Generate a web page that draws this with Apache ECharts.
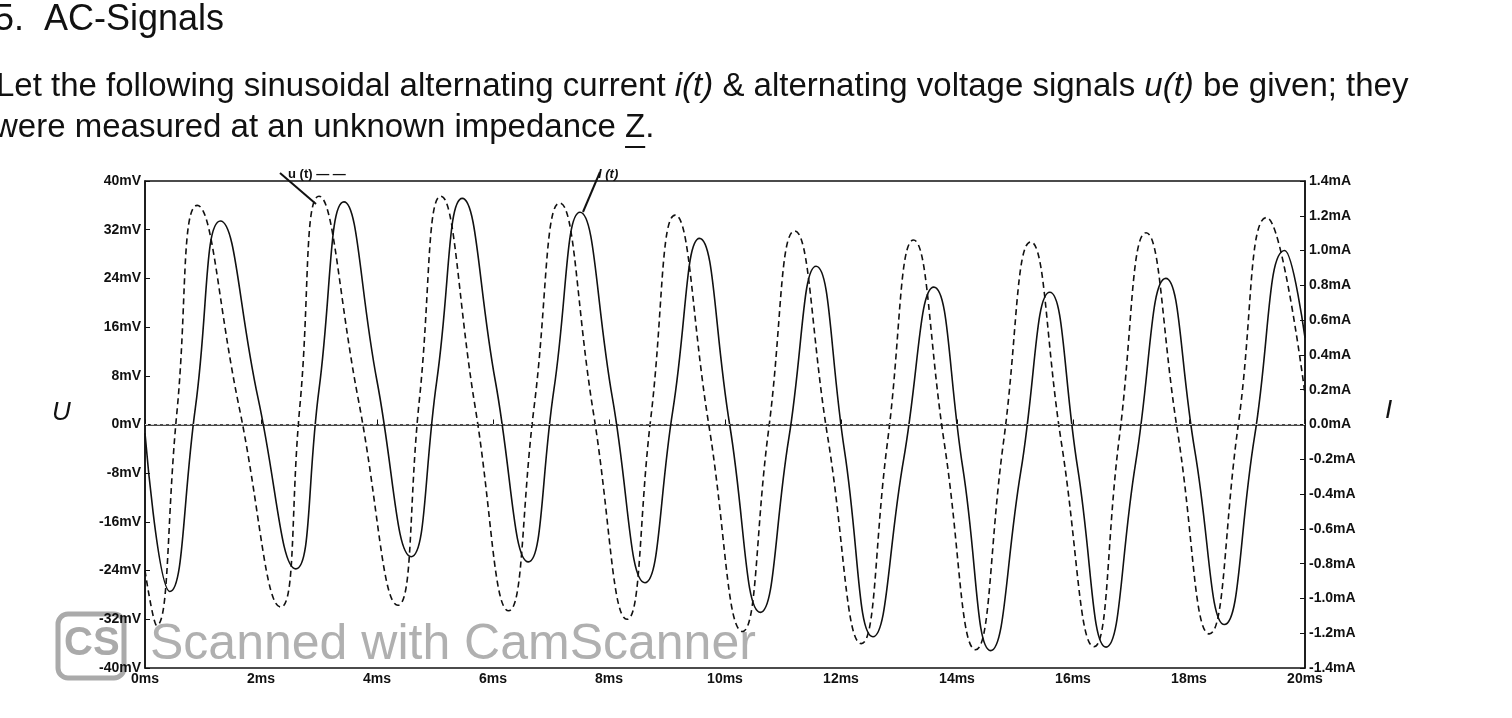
<!DOCTYPE html>
<html>
<head>
<meta charset="utf-8">
<script src="https://cdn.jsdelivr.net/npm/echarts@6/dist/echarts.min.js"></script>
<style>html,body{margin:0;padding:0;background:#fff;}#chart{width:1512px;height:718px;}</style>
</head>
<body>
<div id="chart"></div>
<script>
// u(t) in mV: [time ms, value]
var uPoints = [
  [0,-24],[0.2,-33],[0.55,2],[0.9,36],[1.62,3],[2.34,-30],[2.67,3],[3.0,37.5],[3.68,4],[4.36,-29.7],
  [4.73,4],[5.1,37.5],[5.69,3],[6.27,-30.6],[6.71,3],[7.15,36.4],[7.73,2],[8.31,-32],[8.72,1],[9.14,34.4],
  [9.72,0],[10.3,-34],[10.75,-1],[11.2,31.8],[11.77,-2],[12.35,-36],[12.8,-3],[13.25,30.3],[13.78,-3],[14.32,-37],
  [14.8,-3],[15.27,30],[15.8,-3],[16.36,-36.5],[16.8,-2],[17.26,31.5],[17.8,-1],[18.35,-34.4],[18.85,0],[19.34,34],[20,5]
];
// i(t) in mA
var iPoints = [
  [0,-0.05],[0.43,-0.96],[0.87,0.1],[1.3,1.17],[1.95,0.15],[2.6,-0.83],[3.0,0.2],[3.43,1.28],[4.0,0.25],[4.59,-0.76],
  [5.03,0.25],[5.47,1.30],[6.04,0.25],[6.61,-0.79],[7.05,0.2],[7.5,1.22],[8.06,0.15],[8.62,-0.91],[9.1,0.08],[9.56,1.07],
  [10.08,0],[10.61,-1.08],[11.1,-0.08],[11.57,0.91],[12.06,-0.15],[12.55,-1.22],[13.08,-0.2],[13.6,0.79],[14.1,-0.25],[14.58,-1.30],
  [15.1,-0.27],[15.6,0.76],[16.08,-0.25],[16.57,-1.28],[17.08,-0.22],[17.6,0.84],[18.1,-0.15],[18.61,-1.15],[19.13,-0.07],[19.65,1.0],[20,0.5]
];
var xTicks = {min: 0, max: 20, interval: 2, unit: 'ms'};
var uTicks = {min: -40, max: 40, interval: 8, unit: 'mV'};
var iTicks = {min: -1.4, max: 1.4, interval: 0.2, unit: 'mA'};

var chart = echarts.init(document.getElementById('chart'));
var lab = {color: '#111', fontSize: 14, fontWeight: 'bold', fontFamily: 'Liberation Sans'};
var txt = {fill: '#111', fontSize: 33, fontFamily: 'Liberation Sans'};

// position of the underline under Z
var ctx = document.createElement('canvas').getContext('2d');
ctx.font = '33px "Liberation Sans"';
var line2a = 'were measured at an unknown impedance ';
var zx = -6 + ctx.measureText(line2a).width;
var zw = ctx.measureText('Z').width;

var option = {
  animation: false,
  grid: {left: 145, right: 207, top: 181, bottom: 50, show: true, borderColor: '#111', borderWidth: 1.5},
  xAxis: {
    type: 'value', min: xTicks.min, max: xTicks.max, interval: xTicks.interval,
    axisLine: {lineStyle: {color: '#111', width: 1.5}},
    axisTick: {inside: true, lineStyle: {color: '#111'}},
    axisLabel: Object.assign({formatter: function(v){ return v + xTicks.unit; }, margin: 4}, lab),
    splitLine: {show: false}
  },
  yAxis: [{
    type: 'value', min: uTicks.min, max: uTicks.max, interval: uTicks.interval,
    axisLine: {show: true, lineStyle: {color: '#111', width: 1.5}},
    axisTick: {show: true, inside: true, lineStyle: {color: '#111'}},
    axisLabel: Object.assign({formatter: function(v){ return v + uTicks.unit; }, margin: 4}, lab),
    splitLine: {show: false}
  }, {
    type: 'value', min: iTicks.min, max: iTicks.max, interval: iTicks.interval, position: 'right',
    axisLine: {show: true, lineStyle: {color: '#111', width: 1.5}},
    axisTick: {show: true, inside: true, lineStyle: {color: '#111'}},
    axisLabel: Object.assign({formatter: function(v){ return v.toFixed(1) + iTicks.unit; }, margin: 4}, lab),
    splitLine: {show: false}
  }],
  series: [{
    name: 'u(t)', type: 'line', yAxisIndex: 0, data: uPoints, smooth: 0.5, symbol: 'none',
    lineStyle: {color: '#111', width: 1.6, type: [6, 4]},
    markLine: {silent: true, symbol: 'none', label: {show: false},
      lineStyle: {color: '#d4d4d4', type: [3, 3], width: 1}, data: [{yAxis: 0}]}
  }, {
    name: 'i(t)', type: 'line', yAxisIndex: 1, data: iPoints, smooth: 0.5, symbol: 'none',
    lineStyle: {color: '#111', width: 1.6}
  }],
  graphic: [
    {type: 'text', left: -6, top: 2, style: Object.assign({}, txt, {text: '5.  AC-Signals', fontSize: 36})},
    {type: 'text', left: -4, top: 70, style: {
      text: '{n|Let the following sinusoidal alternating current }{i|i(t)}{n| & alternating voltage signals }{i|u(t)}{n| be given; they}',
      rich: {n: {fontSize: 33, fontFamily: 'Liberation Sans', fill: '#111'},
             i: {fontSize: 33, fontFamily: 'Liberation Sans', fontStyle: 'italic', fill: '#111'}}}},
    {type: 'text', left: -6, top: 111, style: Object.assign({}, txt, {text: line2a + 'Z.'})},
    {type: 'line', shape: {x1: zx, y1: 147, x2: zx + zw, y2: 147}, style: {stroke: '#111', lineWidth: 2}},
    {type: 'text', left: 52, top: 400, style: Object.assign({}, txt, {text: 'U', fontStyle: 'italic', fontSize: 26})},
    {type: 'text', left: 1385, top: 398, style: Object.assign({}, txt, {text: 'I', fontStyle: 'italic', fontSize: 26})},
    {type: 'text', left: 288, top: 168, style: {text: 'u (t) — —', fill: '#111', fontSize: 13, fontWeight: 'bold', fontFamily: 'Liberation Sans'}},
    {type: 'line', shape: {x1: 280, y1: 173, x2: 316, y2: 204}, style: {stroke: '#111', lineWidth: 2}},
    {type: 'text', left: 598, top: 168, style: {text: 'I (t)', fill: '#111', fontSize: 13, fontWeight: 'bold', fontFamily: 'Liberation Sans', fontStyle: 'italic'}},
    {type: 'line', shape: {x1: 600, y1: 172, x2: 583, y2: 212}, style: {stroke: '#111', lineWidth: 2}},
    {type: 'rect', shape: {x: 58, y: 614, width: 66, height: 64, r: 10}, style: {fill: 'rgba(255,255,255,0.6)', stroke: '#aaa', lineWidth: 5}},
    {type: 'text', left: 64, top: 624, style: {text: 'CS', fill: '#aaa', fontSize: 40, fontWeight: 'bold', fontFamily: 'Liberation Sans'}},
    {type: 'text', left: 150, top: 620, style: {text: 'Scanned with CamScanner', fill: 'rgba(150,150,150,0.75)', fontSize: 50, fontFamily: 'Liberation Sans'}}
  ]
};
chart.setOption(option);
</script>
</body>
</html>
